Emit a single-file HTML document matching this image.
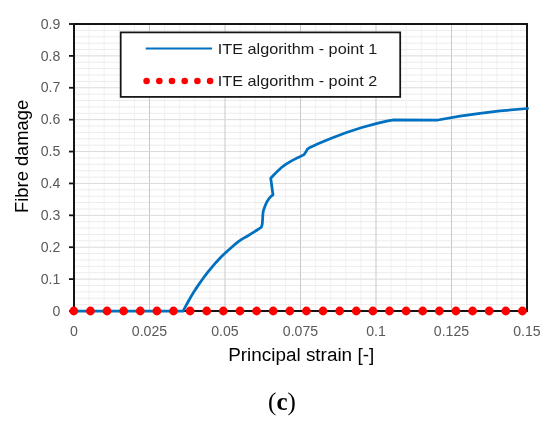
<!DOCTYPE html>
<html><head><meta charset="utf-8"><title>Fibre damage vs principal strain</title>
<style>
html,body{margin:0;padding:0;background:#fff;}
body{width:550px;height:426px;overflow:hidden;}
svg{display:block;}
.tk{font-family:"Liberation Sans",sans-serif;font-size:14.1px;fill:#595959;}
.ti{font-family:"Liberation Sans",sans-serif;font-size:18px;fill:#000;}
.lg{font-family:"Liberation Sans",sans-serif;font-size:15px;fill:#1a1a1a;}
.cap{font-family:"Liberation Serif",serif;font-size:25px;fill:#000;}
</style></head>
<body>
<svg width="550" height="426" viewBox="0 0 550 426">
<rect width="550" height="426" fill="#fff"/>
<g id="grid">
<line x1="89.10" y1="24.0" x2="89.10" y2="311.0" stroke="#f1f1f1" stroke-width="1"/>
<line x1="104.20" y1="24.0" x2="104.20" y2="311.0" stroke="#f1f1f1" stroke-width="1"/>
<line x1="119.30" y1="24.0" x2="119.30" y2="311.0" stroke="#f1f1f1" stroke-width="1"/>
<line x1="134.40" y1="24.0" x2="134.40" y2="311.0" stroke="#f1f1f1" stroke-width="1"/>
<line x1="164.60" y1="24.0" x2="164.60" y2="311.0" stroke="#f1f1f1" stroke-width="1"/>
<line x1="179.70" y1="24.0" x2="179.70" y2="311.0" stroke="#f1f1f1" stroke-width="1"/>
<line x1="194.80" y1="24.0" x2="194.80" y2="311.0" stroke="#f1f1f1" stroke-width="1"/>
<line x1="209.90" y1="24.0" x2="209.90" y2="311.0" stroke="#f1f1f1" stroke-width="1"/>
<line x1="240.10" y1="24.0" x2="240.10" y2="311.0" stroke="#f1f1f1" stroke-width="1"/>
<line x1="255.20" y1="24.0" x2="255.20" y2="311.0" stroke="#f1f1f1" stroke-width="1"/>
<line x1="270.30" y1="24.0" x2="270.30" y2="311.0" stroke="#f1f1f1" stroke-width="1"/>
<line x1="285.40" y1="24.0" x2="285.40" y2="311.0" stroke="#f1f1f1" stroke-width="1"/>
<line x1="315.60" y1="24.0" x2="315.60" y2="311.0" stroke="#f1f1f1" stroke-width="1"/>
<line x1="330.70" y1="24.0" x2="330.70" y2="311.0" stroke="#f1f1f1" stroke-width="1"/>
<line x1="345.80" y1="24.0" x2="345.80" y2="311.0" stroke="#f1f1f1" stroke-width="1"/>
<line x1="360.90" y1="24.0" x2="360.90" y2="311.0" stroke="#f1f1f1" stroke-width="1"/>
<line x1="391.10" y1="24.0" x2="391.10" y2="311.0" stroke="#f1f1f1" stroke-width="1"/>
<line x1="406.20" y1="24.0" x2="406.20" y2="311.0" stroke="#f1f1f1" stroke-width="1"/>
<line x1="421.30" y1="24.0" x2="421.30" y2="311.0" stroke="#f1f1f1" stroke-width="1"/>
<line x1="436.40" y1="24.0" x2="436.40" y2="311.0" stroke="#f1f1f1" stroke-width="1"/>
<line x1="466.60" y1="24.0" x2="466.60" y2="311.0" stroke="#f1f1f1" stroke-width="1"/>
<line x1="481.70" y1="24.0" x2="481.70" y2="311.0" stroke="#f1f1f1" stroke-width="1"/>
<line x1="496.80" y1="24.0" x2="496.80" y2="311.0" stroke="#f1f1f1" stroke-width="1"/>
<line x1="511.90" y1="24.0" x2="511.90" y2="311.0" stroke="#f1f1f1" stroke-width="1"/>
<line x1="74.0" y1="304.62" x2="527.0" y2="304.62" stroke="#ececec" stroke-width="1"/>
<line x1="74.0" y1="298.24" x2="527.0" y2="298.24" stroke="#ececec" stroke-width="1"/>
<line x1="74.0" y1="291.87" x2="527.0" y2="291.87" stroke="#ececec" stroke-width="1"/>
<line x1="74.0" y1="285.49" x2="527.0" y2="285.49" stroke="#ececec" stroke-width="1"/>
<line x1="74.0" y1="272.73" x2="527.0" y2="272.73" stroke="#ececec" stroke-width="1"/>
<line x1="74.0" y1="266.36" x2="527.0" y2="266.36" stroke="#ececec" stroke-width="1"/>
<line x1="74.0" y1="259.98" x2="527.0" y2="259.98" stroke="#ececec" stroke-width="1"/>
<line x1="74.0" y1="253.60" x2="527.0" y2="253.60" stroke="#ececec" stroke-width="1"/>
<line x1="74.0" y1="240.84" x2="527.0" y2="240.84" stroke="#ececec" stroke-width="1"/>
<line x1="74.0" y1="234.47" x2="527.0" y2="234.47" stroke="#ececec" stroke-width="1"/>
<line x1="74.0" y1="228.09" x2="527.0" y2="228.09" stroke="#ececec" stroke-width="1"/>
<line x1="74.0" y1="221.71" x2="527.0" y2="221.71" stroke="#ececec" stroke-width="1"/>
<line x1="74.0" y1="208.96" x2="527.0" y2="208.96" stroke="#ececec" stroke-width="1"/>
<line x1="74.0" y1="202.58" x2="527.0" y2="202.58" stroke="#ececec" stroke-width="1"/>
<line x1="74.0" y1="196.20" x2="527.0" y2="196.20" stroke="#ececec" stroke-width="1"/>
<line x1="74.0" y1="189.82" x2="527.0" y2="189.82" stroke="#ececec" stroke-width="1"/>
<line x1="74.0" y1="177.07" x2="527.0" y2="177.07" stroke="#ececec" stroke-width="1"/>
<line x1="74.0" y1="170.69" x2="527.0" y2="170.69" stroke="#ececec" stroke-width="1"/>
<line x1="74.0" y1="164.31" x2="527.0" y2="164.31" stroke="#ececec" stroke-width="1"/>
<line x1="74.0" y1="157.93" x2="527.0" y2="157.93" stroke="#ececec" stroke-width="1"/>
<line x1="74.0" y1="145.18" x2="527.0" y2="145.18" stroke="#ececec" stroke-width="1"/>
<line x1="74.0" y1="138.80" x2="527.0" y2="138.80" stroke="#ececec" stroke-width="1"/>
<line x1="74.0" y1="132.42" x2="527.0" y2="132.42" stroke="#ececec" stroke-width="1"/>
<line x1="74.0" y1="126.04" x2="527.0" y2="126.04" stroke="#ececec" stroke-width="1"/>
<line x1="74.0" y1="113.29" x2="527.0" y2="113.29" stroke="#ececec" stroke-width="1"/>
<line x1="74.0" y1="106.91" x2="527.0" y2="106.91" stroke="#ececec" stroke-width="1"/>
<line x1="74.0" y1="100.53" x2="527.0" y2="100.53" stroke="#ececec" stroke-width="1"/>
<line x1="74.0" y1="94.16" x2="527.0" y2="94.16" stroke="#ececec" stroke-width="1"/>
<line x1="74.0" y1="81.40" x2="527.0" y2="81.40" stroke="#ececec" stroke-width="1"/>
<line x1="74.0" y1="75.02" x2="527.0" y2="75.02" stroke="#ececec" stroke-width="1"/>
<line x1="74.0" y1="68.64" x2="527.0" y2="68.64" stroke="#ececec" stroke-width="1"/>
<line x1="74.0" y1="62.27" x2="527.0" y2="62.27" stroke="#ececec" stroke-width="1"/>
<line x1="74.0" y1="49.51" x2="527.0" y2="49.51" stroke="#ececec" stroke-width="1"/>
<line x1="74.0" y1="43.13" x2="527.0" y2="43.13" stroke="#ececec" stroke-width="1"/>
<line x1="74.0" y1="36.76" x2="527.0" y2="36.76" stroke="#ececec" stroke-width="1"/>
<line x1="74.0" y1="30.38" x2="527.0" y2="30.38" stroke="#ececec" stroke-width="1"/>
<line x1="149.50" y1="24.0" x2="149.50" y2="311.0" stroke="#c9c9c9" stroke-width="1"/>
<line x1="225.00" y1="24.0" x2="225.00" y2="311.0" stroke="#c9c9c9" stroke-width="1"/>
<line x1="300.50" y1="24.0" x2="300.50" y2="311.0" stroke="#c9c9c9" stroke-width="1"/>
<line x1="376.00" y1="24.0" x2="376.00" y2="311.0" stroke="#c9c9c9" stroke-width="1"/>
<line x1="451.50" y1="24.0" x2="451.50" y2="311.0" stroke="#c9c9c9" stroke-width="1"/>
<line x1="74.0" y1="279.11" x2="527.0" y2="279.11" stroke="#dadada" stroke-width="1"/>
<line x1="74.0" y1="247.22" x2="527.0" y2="247.22" stroke="#dadada" stroke-width="1"/>
<line x1="74.0" y1="215.33" x2="527.0" y2="215.33" stroke="#dadada" stroke-width="1"/>
<line x1="74.0" y1="183.44" x2="527.0" y2="183.44" stroke="#dadada" stroke-width="1"/>
<line x1="74.0" y1="151.56" x2="527.0" y2="151.56" stroke="#dadada" stroke-width="1"/>
<line x1="74.0" y1="119.67" x2="527.0" y2="119.67" stroke="#dadada" stroke-width="1"/>
<line x1="74.0" y1="87.78" x2="527.0" y2="87.78" stroke="#dadada" stroke-width="1"/>
<line x1="74.0" y1="55.89" x2="527.0" y2="55.89" stroke="#dadada" stroke-width="1"/>
</g>
<g id="axes">
<path d="M74.0 311.0 V24.0 H527.0 V311.0 H74.0" fill="none" stroke="#141414" stroke-width="2"/>
<line x1="69" y1="311.00" x2="74.0" y2="311.00" stroke="#141414" stroke-width="1.8"/>
<line x1="69" y1="279.11" x2="74.0" y2="279.11" stroke="#141414" stroke-width="1.8"/>
<line x1="69" y1="247.22" x2="74.0" y2="247.22" stroke="#141414" stroke-width="1.8"/>
<line x1="69" y1="215.33" x2="74.0" y2="215.33" stroke="#141414" stroke-width="1.8"/>
<line x1="69" y1="183.44" x2="74.0" y2="183.44" stroke="#141414" stroke-width="1.8"/>
<line x1="69" y1="151.56" x2="74.0" y2="151.56" stroke="#141414" stroke-width="1.8"/>
<line x1="69" y1="119.67" x2="74.0" y2="119.67" stroke="#141414" stroke-width="1.8"/>
<line x1="69" y1="87.78" x2="74.0" y2="87.78" stroke="#141414" stroke-width="1.8"/>
<line x1="69" y1="55.89" x2="74.0" y2="55.89" stroke="#141414" stroke-width="1.8"/>
<line x1="69" y1="24.00" x2="74.0" y2="24.00" stroke="#141414" stroke-width="1.8"/>
</g>
<g id="data">
<path d="M74 311 L183.2 311.0 L185.72 306.12 L188.25 301.47 L190.77 297.03 L193.29 292.84 L195.81 288.89 L198.34 285.14 L200.86 281.54 L203.38 278.05 L205.9 274.67 L208.43 271.42 L210.95 268.3 L213.47 265.32 L215.99 262.45 L218.52 259.7 L221.04 257.07 L223.56 254.57 L226.08 252.21 L228.61 249.94 L231.13 247.74 L233.65 245.56 L236.17 243.38 L238.7 241.36 L241.22 239.66 L243.74 238.14 L246.26 236.71 L248.79 235.25 L251.31 233.7 L253.83 232.11 L256.35 230.5 L258.88 228.86 L261.4 227.2 L262.3 223.8 L262.6 219.4 L262.8 215.4 L263.2 211.3 L264.9 206.4 L266.9 201.8 L269.4 198.1 L271.6 195.8 L273 194.8 L272.3 189.9 L271.7 185.5 L271.2 181.8 L270.7 178.3 L274 174.7 L277.8 170.9 L281.5 167.5 L286.1 164.1 L291.5 160.9 L295.9 158.6 L299.8 156.8 L304.1 154.6 L305.8 152.1 L307.4 149.2 L310.4 147.2 L314.3 145.4 L318 143.8 L331.3 138.2 L346.5 132.5 L361.8 127.5 L377.1 123.3 L387.8 120.8 L393.9 119.9 L438 120 L460 116.2 L480 113.3 L500 110.9 L527.6 108.5" fill="none" stroke="#0070c0" stroke-width="2.75" stroke-linejoin="round" stroke-linecap="round"/>
<circle cx="73.80" cy="311" r="4.4" fill="#ff0000"/>
<circle cx="90.41" cy="311" r="4.4" fill="#ff0000"/>
<circle cx="107.03" cy="311" r="4.4" fill="#ff0000"/>
<circle cx="123.64" cy="311" r="4.4" fill="#ff0000"/>
<circle cx="140.26" cy="311" r="4.4" fill="#ff0000"/>
<circle cx="156.87" cy="311" r="4.4" fill="#ff0000"/>
<circle cx="173.49" cy="311" r="4.4" fill="#ff0000"/>
<circle cx="190.10" cy="311" r="4.4" fill="#ff0000"/>
<circle cx="206.72" cy="311" r="4.4" fill="#ff0000"/>
<circle cx="223.33" cy="311" r="4.4" fill="#ff0000"/>
<circle cx="239.95" cy="311" r="4.4" fill="#ff0000"/>
<circle cx="256.56" cy="311" r="4.4" fill="#ff0000"/>
<circle cx="273.18" cy="311" r="4.4" fill="#ff0000"/>
<circle cx="289.79" cy="311" r="4.4" fill="#ff0000"/>
<circle cx="306.41" cy="311" r="4.4" fill="#ff0000"/>
<circle cx="323.02" cy="311" r="4.4" fill="#ff0000"/>
<circle cx="339.64" cy="311" r="4.4" fill="#ff0000"/>
<circle cx="356.25" cy="311" r="4.4" fill="#ff0000"/>
<circle cx="372.87" cy="311" r="4.4" fill="#ff0000"/>
<circle cx="389.48" cy="311" r="4.4" fill="#ff0000"/>
<circle cx="406.10" cy="311" r="4.4" fill="#ff0000"/>
<circle cx="422.71" cy="311" r="4.4" fill="#ff0000"/>
<circle cx="439.33" cy="311" r="4.4" fill="#ff0000"/>
<circle cx="455.94" cy="311" r="4.4" fill="#ff0000"/>
<circle cx="472.56" cy="311" r="4.4" fill="#ff0000"/>
<circle cx="489.17" cy="311" r="4.4" fill="#ff0000"/>
<circle cx="505.79" cy="311" r="4.4" fill="#ff0000"/>
<circle cx="522.40" cy="311" r="4.4" fill="#ff0000"/>
</g>
<g id="legend">
<rect x="120.7" y="32.4" width="279.5" height="64.5" fill="#fff" stroke="#141414" stroke-width="1.75"/>
<line x1="145.7" y1="48.5" x2="212" y2="48.5" stroke="#0070c0" stroke-width="2.1"/>
<circle cx="146.60" cy="81" r="3.3" fill="#ff0000"/>
<circle cx="159.30" cy="81" r="3.3" fill="#ff0000"/>
<circle cx="172.00" cy="81" r="3.3" fill="#ff0000"/>
<circle cx="184.70" cy="81" r="3.3" fill="#ff0000"/>
<circle cx="197.40" cy="81" r="3.3" fill="#ff0000"/>
<circle cx="210.10" cy="81" r="3.3" fill="#ff0000"/>
<text x="217.8" y="53.5" textLength="159.5" lengthAdjust="spacingAndGlyphs" class="lg">ITE algorithm - point 1</text>
<text x="217.8" y="85.5" textLength="159.5" lengthAdjust="spacingAndGlyphs" class="lg">ITE algorithm - point 2</text>
</g>
<g id="labels">
<text x="60.3" y="315.70" text-anchor="end" class="tk">0</text>
<text x="60.3" y="283.81" text-anchor="end" class="tk">0.1</text>
<text x="60.3" y="251.92" text-anchor="end" class="tk">0.2</text>
<text x="60.3" y="220.03" text-anchor="end" class="tk">0.3</text>
<text x="60.3" y="188.14" text-anchor="end" class="tk">0.4</text>
<text x="60.3" y="156.26" text-anchor="end" class="tk">0.5</text>
<text x="60.3" y="124.37" text-anchor="end" class="tk">0.6</text>
<text x="60.3" y="92.48" text-anchor="end" class="tk">0.7</text>
<text x="60.3" y="60.59" text-anchor="end" class="tk">0.8</text>
<text x="60.3" y="28.70" text-anchor="end" class="tk">0.9</text>
<text x="74.00" y="335.5" text-anchor="middle" class="tk">0</text>
<text x="149.50" y="335.5" text-anchor="middle" class="tk">0.025</text>
<text x="225.00" y="335.5" text-anchor="middle" class="tk">0.05</text>
<text x="300.50" y="335.5" text-anchor="middle" class="tk">0.075</text>
<text x="376.00" y="335.5" text-anchor="middle" class="tk">0.1</text>
<text x="451.50" y="335.5" text-anchor="middle" class="tk">0.125</text>
<text x="527.00" y="335.5" text-anchor="middle" class="tk">0.15</text>
<text x="301.2" y="361" text-anchor="middle" class="ti" textLength="146" lengthAdjust="spacingAndGlyphs">Principal strain [-]</text>
<text transform="translate(28 156.4) rotate(-90)" x="0" y="0" text-anchor="middle" class="ti" textLength="113" lengthAdjust="spacingAndGlyphs">Fibre damage</text>
<text x="282" y="409.7" text-anchor="middle" class="cap">(<tspan font-weight="bold">c</tspan>)</text>
</g>
</svg>
</body></html>
